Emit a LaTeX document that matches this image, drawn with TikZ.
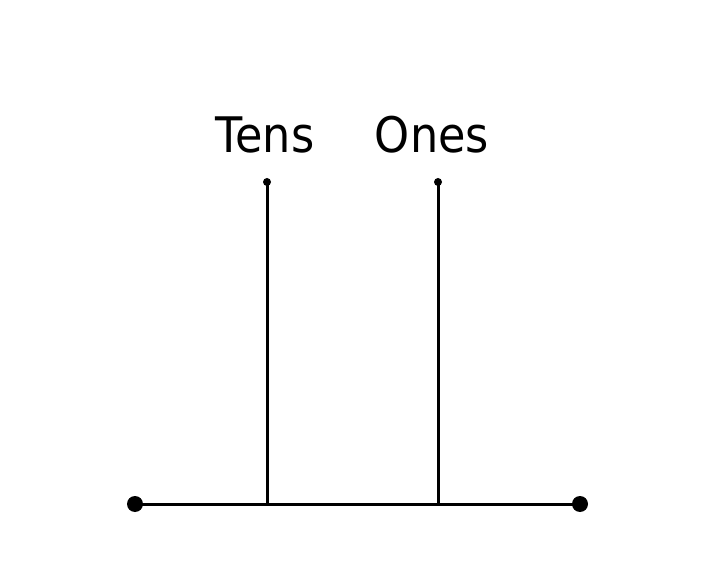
\documentclass[tikz,border=0pt]{standalone}
\usepackage{fontspec}
\setmainfont{DejaVu Sans}
\begin{document}
\begin{tikzpicture}[x=1pt,y=-1pt,
  rod/.style={line width=3pt},
  bigdot/.style={circle,fill=black,inner sep=0pt,minimum size=16pt},
  smalldot/.style={circle,fill=black,inner sep=0pt,minimum size=8pt},
  label/.style={font=\fontsize{49}{50}\selectfont,inner sep=0pt,anchor=base,xscale=0.91}]
\useasboundingbox (0,0) rectangle (705,580);
\node[bigdot] (L) at (135,504) {};
\node[bigdot] (R) at (580,504) {};
\coordinate (b1) at (267,504);
\coordinate (b2) at (438,504);
\node[smalldot] (t1) at (267,182) {};
\node[smalldot] (t2) at (438,182) {};
\draw[rod] (L.center) -- (R.center);
\draw[rod] (t1.center) -- (b1);
\draw[rod] (t2.center) -- (b2);
\node[label] (tens) at (265,153) {Tens};
\node[label] (ones) at (432,153) {Ones};
\end{tikzpicture}
\end{document}
